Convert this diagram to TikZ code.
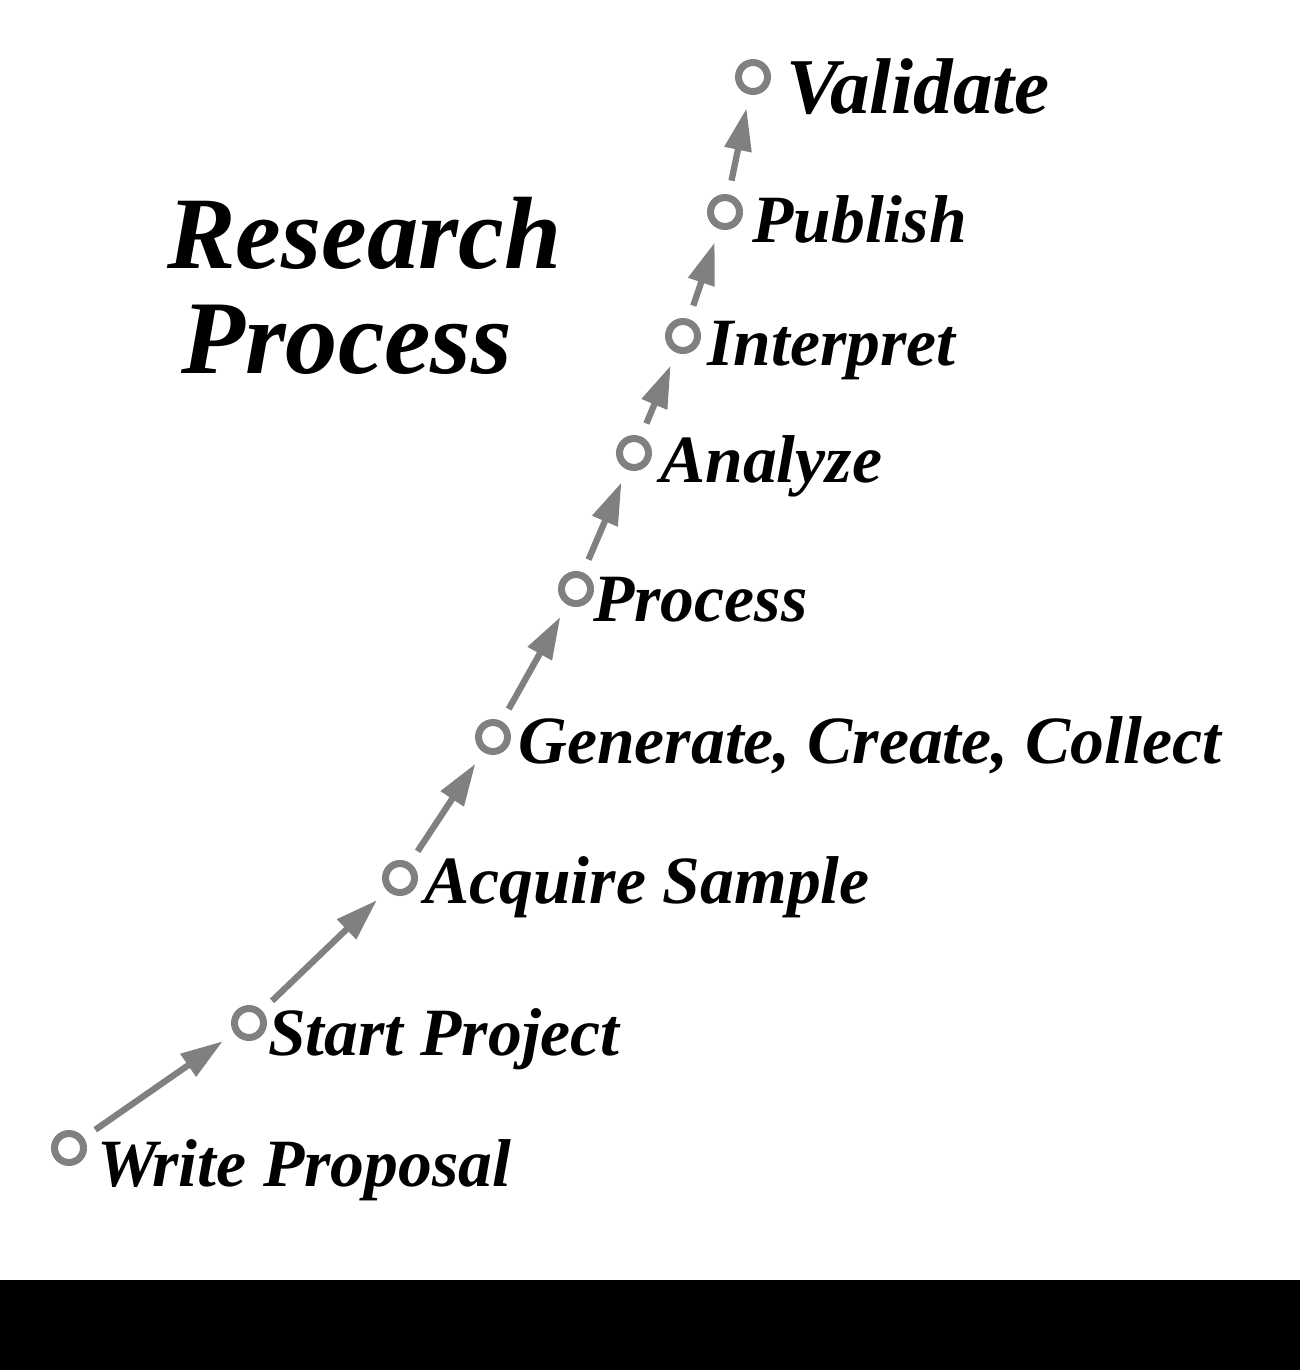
\documentclass[tikz,border=0pt]{standalone}
\usepackage{fontspec}
\setmainfont{Liberation Serif}
\usetikzlibrary{
	arrows.meta
}
\definecolor{stepgray}{RGB}{128,128,128}

\begin{document}
\begin{tikzpicture}[x=0.02cm, y=-0.02cm,
    stage/.style={circle, draw=stepgray, fill=white, line width=4pt, minimum size=0.58cm, inner sep=0pt},
    stagetext/.style={anchor=base west, inner sep=0pt, font=\bfseries\itshape\fontsize{38.5}{40}\selectfont},
    advance/.style={draw=stepgray, line width=3.6pt, -{Triangle[length=24pt, width=15pt]}, shorten <=0.28cm, shorten >=0.28cm}
]
    % Frame
    \useasboundingbox (0,0) rectangle (1300,1370);
    \fill[black] (0,1280) rectangle (1300,1370);
    % Title
    \node[stagetext, font=\bfseries\itshape\fontsize{58.5}{60}\selectfont] (title1) at (167,268) {Research};
    \node[stagetext, font=\bfseries\itshape\fontsize{59.5}{60}\selectfont] (title2) at (181,373) {Process};
    % Stages
    \node[stage] (write)    at (69,1148) {};
    \node[stage] (start)    at (249,1023) {};
    \node[stage] (acquire)  at (400,878) {};
    \node[stage] (generate) at (493,737) {};
    \node[stage] (process)  at (576,589) {};
    \node[stage] (analyze)  at (634,453) {};
    \node[stage] (interpret) at (683,336) {};
    \node[stage] (publish)  at (725,212) {};
    \node[stage] (validate) at (753,77) {};
    % Stage texts
    \node[stagetext] (writeT)    at (97,1186)  {Write Proposal};
    \node[stagetext] (startT)    at (268,1055) {Start Project};
    \node[stagetext] (acquireT)  at (424,903)  {Acquire Sample};
    \node[stagetext] (generateT) at (518,763)  {Generate, Create, Collect};
    \node[stagetext] (processT)  at (593,621)  {Process};
    \node[stagetext] (analyzeT)  at (660,482)  {Analyze};
    \node[stagetext] (interpretT) at (707,365) {Interpret};
    \node[stagetext] (publishT)  at (752,242)  {Publish};
    \node[stagetext, font=\bfseries\itshape\fontsize{45}{46}\selectfont] (validateT) at (786,113) {Validate};
    % Arrows
    \draw[advance] (write)     -- (start);
    \draw[advance] (start)     -- (acquire);
    \draw[advance] (acquire)   -- (generate);
    \draw[advance] (generate)  -- (process);
    \draw[advance] (process)   -- (analyze);
    \draw[advance] (analyze)   -- (interpret);
    \draw[advance] (interpret) -- (publish);
    \draw[advance] (publish)   -- (validate);
\end{tikzpicture}
\end{document}
